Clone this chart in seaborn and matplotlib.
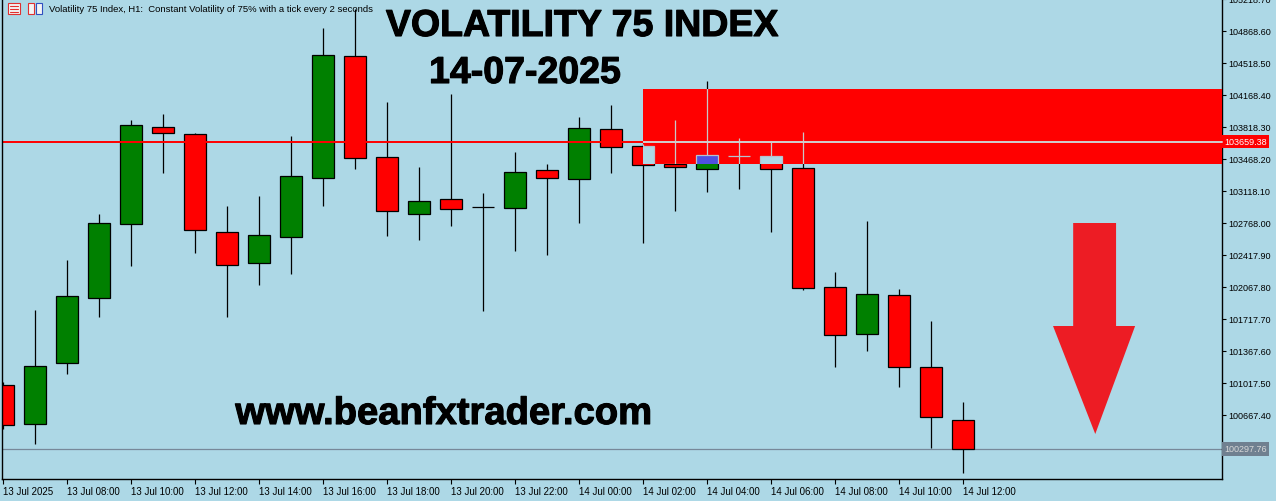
# Volatility 75 Index H1 candles, MT4-style chart
import numpy as np
import pandas as pd
import seaborn as sns
import matplotlib
matplotlib.use("Agg")
import matplotlib.pyplot as plt
from matplotlib.patches import Rectangle, Polygon
import matplotlib.patheffects as pe

# hourly candles, 13 Jul 06:00 -> 14 Jul 12:00
hours = ["13 Jul 06:00", "13 Jul 07:00", "13 Jul 08:00", "13 Jul 09:00", "13 Jul 10:00",
         "13 Jul 11:00", "13 Jul 12:00", "13 Jul 13:00", "13 Jul 14:00", "13 Jul 15:00",
         "13 Jul 16:00", "13 Jul 17:00", "13 Jul 18:00", "13 Jul 19:00", "13 Jul 20:00",
         "13 Jul 21:00", "13 Jul 22:00", "13 Jul 23:00", "14 Jul 00:00", "14 Jul 01:00",
         "14 Jul 02:00", "14 Jul 03:00", "14 Jul 04:00", "14 Jul 05:00", "14 Jul 06:00",
         "14 Jul 07:00", "14 Jul 08:00", "14 Jul 09:00", "14 Jul 10:00", "14 Jul 11:00",
         "14 Jul 12:00"]
opens = [100995.6, 100568.9, 101236.3, 101947.5, 102757.0, 103818.3, 103741.7, 102669.5,
         102330.4, 102614.8, 103260.3, 104595.1, 103490.1, 102866.5, 103030.6, 102943.1,
         102932.2, 103347.8, 103249.4, 103796.5, 103610.4, 103413.5, 103358.8, 103501.0,
         103501.0, 103369.8, 102067.8, 101553.6, 101980.3, 101192.6, 100612.7]
highs = [101028.5, 101816.2, 102363.2, 102866.5, 103894.9, 103960.5, 103752.7, 102954.0,
         103063.4, 103719.8, 104901.4, 105109.3, 104091.8, 103380.7, 104179.3, 103096.2,
         103544.8, 103413.5, 103927.7, 104059.0, 103632.3, 103894.9, 104321.6, 103698.0,
         103654.2, 103763.6, 102231.9, 102789.9, 102046.0, 101695.8, 100809.6]
lows = [100514.2, 100350.1, 101116.0, 101739.6, 102297.6, 103315.0, 102439.8, 101739.6,
        102089.7, 102210.0, 102954.0, 103358.8, 102625.8, 102582.0, 102735.2, 101805.2,
        102461.7, 102417.9, 102768.0, 103315.0, 102549.2, 102899.3, 103107.2, 103140.0,
        102669.5, 102035.0, 101192.6, 101367.6, 100973.8, 100306.4, 100032.9]
closes = [100558.0, 101203.5, 101969.3, 102768.0, 103840.2, 103752.7, 102691.4, 102308.5,
          102636.7, 103282.2, 104606.0, 103479.1, 102899.3, 103008.7, 102921.2, 102943.1,
          103326.0, 103260.3, 103807.4, 103599.5, 103402.6, 103380.7, 103512.0, 103501.0,
          103358.8, 102056.9, 101542.7, 101991.2, 101192.6, 100645.5, 100297.76]

x_tick_pos = list(range(0, 31, 2))
x_tick_labels = ["13 Jul 2025", "13 Jul 08:00", "13 Jul 10:00", "13 Jul 12:00", "13 Jul 14:00",
                 "13 Jul 16:00", "13 Jul 18:00", "13 Jul 20:00", "13 Jul 22:00", "14 Jul 00:00",
                 "14 Jul 02:00", "14 Jul 04:00", "14 Jul 06:00", "14 Jul 08:00", "14 Jul 10:00",
                 "14 Jul 12:00"]
y_ticks = [105218.70, 104868.60, 104518.50, 104168.40, 103818.30, 103468.20, 103118.10,
           102768.00, 102417.90, 102067.80, 101717.70, 101367.60, 101017.50, 100667.40]

level_price = 103659.38
bid_price = 100297.76
zone_start = 20          # 14 Jul 02:00
zone_low, zone_high = 103413.5, 104234.0

# arrow outline (x in bar slots, y in price)
arrow_x = [33.44, 34.78, 34.78, 35.375, 34.13, 32.81, 33.44]
arrow_y = [102768.0, 102768.0, 101641.1, 101641.1, 100459.5, 101641.1, 101641.1]

BG = "#add8e6"
GREEN = "#008000"
RED = "#ff0000"

sns.set_theme(style="white", rc={"axes.facecolor": BG, "figure.facecolor": BG})
plt.rcParams['font.family'] = ['Liberation Sans', 'DejaVu Sans']

df = pd.DataFrame({"hour": hours, "open": opens, "high": highs, "low": lows, "close": closes})
df["x"] = np.arange(len(df))
df["up"] = df["close"] > df["open"]
df["bottom"] = df[["open", "close"]].min(axis=1)
df["height"] = (df["close"] - df["open"]).abs()

W, H = 1276, 502
fig = plt.figure(figsize=(W / 100, H / 100), dpi=100)
ax = fig.add_axes([2 / W, 22 / H, 1220 / W, 480 / H])
ax.set_xlim(-0.03, 38.09)
ax.set_ylim(99967.2, 105218.7)

def draw_candles(up_col, down_col, edge, wick, z, clip=None):
    wl = ax.vlines(df["x"], df["low"], df["high"], color=wick, lw=0.9, zorder=z)
    cols = [up_col if u else down_col for u in df["up"]]
    bars = ax.bar(df["x"], df["height"], bottom=df["bottom"], width=0.69,
                  color=cols, edgecolor=edge, linewidth=0.9, zorder=z + 0.1)
    lvl = ax.axhline(level_price, color=("#d0d0d0" if clip is not None else RED),
                     lw=1.4, zorder=z + 0.2)
    if clip is not None:
        wl.set_clip_path(clip)
        lvl.set_clip_path(clip)
        for b in bars:
            b.set_clip_path(clip)

ax.axhline(bid_price, color="#778899", lw=0.9, zorder=1.5)
draw_candles(GREEN, RED, "black", "black", 2)

zone = Rectangle((zone_start, zone_low), 40, zone_high - zone_low, facecolor=RED,
                 edgecolor="none", zorder=4)
ax.add_patch(zone)
# MT4 draws the zone inverted over the bars
draw_candles("#5050e0", BG, "#b8c0cc", "#c8c8c8", 5, clip=zone)

ax.add_patch(Polygon(list(zip(arrow_x, arrow_y)), closed=True, facecolor="#ed1c24",
                     edgecolor="none", zorder=6))

# axes styling
for s in ["left", "right", "bottom"]:
    ax.spines[s].set_color("black")
    ax.spines[s].set_linewidth(1.0)
ax.spines["top"].set_visible(False)
ax.yaxis.tick_right()
ax.set_yticks(y_ticks)
ax.set_yticklabels([f"{v:.2f}" for v in y_ticks])
ax.set_xticks(x_tick_pos)
ax.set_xticklabels(x_tick_labels, ha="left")
ax.tick_params(axis="y", direction="out", length=3, width=0.8, labelsize=6.5, pad=1.5,
               colors="black", right=True, left=False)
ax.tick_params(axis="x", direction="out", length=3.5, width=0.8, labelsize=7, pad=1.5,
               colors="black", bottom=True)
ax.grid(False)

ytr = ax.get_yaxis_transform()
ax.text(1.0015, level_price, f"{level_price:.2f}", transform=ytr, va="center", ha="left",
        fontsize=6.5, color="white", bbox=dict(facecolor=RED, edgecolor="none", pad=1.6))
ax.text(1.0015, bid_price, f"{bid_price:.2f}", transform=ytr, va="center", ha="left",
        fontsize=6.5, color="#d8d8d8", bbox=dict(facecolor="#708090", edgecolor="none", pad=1.6))

# header + overlay texts
fig.text(49 / W, 1 - 9 / H, "Volatility 75 Index, H1:  Constant Volatility of 75% with a tick every 2 seconds",
         fontsize=6.8, va="center", ha="left", color="black")
stroke = [pe.withStroke(linewidth=0.8, foreground="black")]
fig.text(582 / W, 1 - 37 / H, "VOLATILITY 75 INDEX", fontsize=27, fontweight="bold",
         ha="center", va="baseline", color="black", path_effects=stroke)
fig.text(525 / W, 1 - 84 / H, "14-07-2025", fontsize=27, fontweight="bold",
         ha="center", va="baseline", color="black", path_effects=stroke)
fig.text(444 / W, 1 - 425 / H, "www.beanfxtrader.com", fontsize=27.5, fontweight="bold",
         ha="center", va="baseline", color="black", path_effects=stroke)

# little toolbar icons at top-left
def icon_rect(px, py, w, h, edge, face="#f4f4f4"):
    fig.add_artist(Rectangle((px / W, 1 - (py + h) / H), w / W, h / H, transform=fig.transFigure,
                             facecolor=face, edgecolor=edge, linewidth=0.8))

icon_rect(8, 4, 12, 11, "#e03030")
for yy in [7, 10, 13]:
    fig.add_artist(plt.Line2D([10 / W, 18 / W], [1 - yy / H, 1 - yy / H], color="#e03030",
                              lw=0.8, transform=fig.transFigure))
icon_rect(28, 4, 6, 11, "#e03030")
icon_rect(36, 4, 6, 11, "#3050c0")

fig.savefig("out.png", dpi=100, facecolor=BG)
